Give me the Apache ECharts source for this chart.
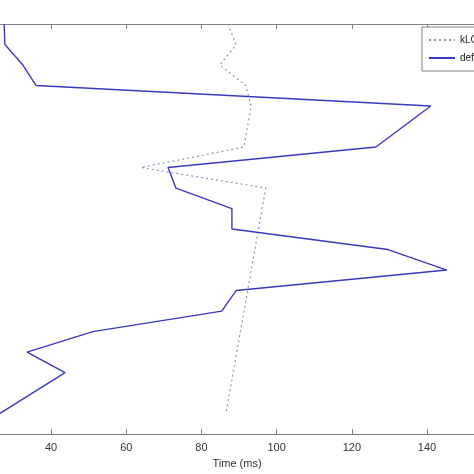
<!DOCTYPE html>
<html>
<head>
<meta charset="utf-8">
<script src="https://cdn.jsdelivr.net/npm/echarts@6/dist/echarts.min.js"></script>
<style>html,body{margin:0;padding:0;background:#fff;}#chart{width:474px;height:474px;}</style>
</head>
<body>
<div id="chart"></div>
<script>
// step index (top = 0) and time values (ms)
var defaultSteps = [0, 1, 2, 3, 4, 6, 7, 8, 9, 10, 11, 12, 13, 14, 15, 16, 17, 20];
var defaultTimes = [27.5, 27.7, 32.5, 36.0, 141.0, 126.4, 71.1, 73.2, 88.1, 88.1, 129.6, 145.3, 89.2, 85.4, 51.1, 33.6, 43.7, 17.6];
var klcSteps = [0, 1, 2, 3, 4, 6, 7, 8, 19];
var klcTimes = [87.0, 89.2, 84.9, 91.8, 93.2, 91.3, 63.9, 97.1, 86.5];
var xTicks = [40, 60, 80, 100, 120, 140];

function pairs(xs, ys) {
    return xs.map(function (x, i) { return [x, ys[i]]; });
}

var chart = echarts.init(document.getElementById("chart"));
var axisColor = '#808080';
chart.setOption({
    animation: false,
    grid: { left: 0, right: 0, top: 24, bottom: 36 },
    legend: {
        left: 422, top: 27,
        orient: 'vertical',
        itemWidth: 26, itemHeight: 2, itemGap: 8,
        borderColor: '#808080', borderWidth: 1,
        padding: [8, 6],
        backgroundColor: '#fff',
        textStyle: { fontFamily: 'Liberation Sans', fontSize: 10, color: '#222' },
        data: [
            { name: 'kLCS', itemStyle: { opacity: 0 } },
            { name: 'default', itemStyle: { opacity: 0 } }
        ]
    },
    xAxis: [{
        type: 'value', position: 'bottom', min: 26.4, max: 152.5,
        name: 'Time (ms)', nameLocation: 'middle', nameGap: 21,
        nameTextStyle: { fontFamily: 'Liberation Sans', fontSize: 11, color: '#333' },
        axisLine: { onZero: false, lineStyle: { color: axisColor } },
        axisTick: { inside: true, length: 5, customValues: xTicks, lineStyle: { color: axisColor } },
        axisLabel: { customValues: xTicks, fontFamily: 'Liberation Sans', fontSize: 11, color: '#333', margin: 8 },
        splitLine: { show: false }
    }, {
        type: 'value', position: 'top', min: 26.4, max: 152.5,
        axisLine: { show: true, onZero: false, lineStyle: { color: axisColor } },
        axisTick: { inside: true, length: 5, customValues: xTicks, lineStyle: { color: axisColor } },
        axisLabel: { show: false },
        splitLine: { show: false }
    }],
    yAxis: {
        type: 'value', inverse: true, min: 0, max: 20, show: false
    },
    series: [{
        name: 'kLCS', type: 'line', symbol: 'none',
        lineStyle: { color: '#8f94b8', width: 1.2, type: [2, 3] },
        itemStyle: { color: '#8f94b8' },
        data: pairs(klcTimes, klcSteps)
    }, {
        name: 'default', type: 'line', symbol: 'none',
        lineStyle: { color: '#3a3ac0', width: 1.4 },
        itemStyle: { color: '#3a3ac0' },
        data: pairs(defaultTimes, defaultSteps)
    }]
});
</script>
</body>
</html>
